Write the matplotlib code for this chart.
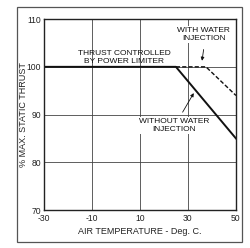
import matplotlib
matplotlib.use('Agg')
import matplotlib.pyplot as plt
from matplotlib.patches import Rectangle

plt.rcParams['font.family'] = ['Liberation Sans', 'DejaVu Sans']
plt.rcParams['axes.unicode_minus'] = False

# data
without_x = [-30, 25, 50]
without_y = [100, 100, 85]
with_x = [25, 37.5, 50]
with_y = [100, 100, 94]
xticks = [-30, -10, 10, 30, 50]
yticks = [70, 80, 90, 100, 110]

fig = plt.figure(figsize=(2.51, 2.48), dpi=100)
ax = fig.add_axes([0.175, 0.153, 0.765, 0.770])

# outer frame around the whole figure
fig.patches.append(Rectangle((0.068, 0.024), 0.896, 0.948, transform=fig.transFigure,
                             fill=False, lw=0.9, ec='#555555'))

ax.set_xlim(-30, 50)
ax.set_ylim(70, 110)
ax.set_xticks(xticks)
ax.set_yticks(yticks)
ax.tick_params(length=0, labelsize=6.2, colors='#222222')
ax.tick_params(axis='x', pad=3)
ax.tick_params(axis='y', pad=2)
ax.grid(True, color='#444444', lw=0.6)
for s in ax.spines.values():
    s.set_linewidth(1.0)
    s.set_color('#222222')

ax.plot(with_x, with_y, color='#111111', lw=1.0, ls=(0, (3, 1.5)))
ax.plot(without_x, without_y, color='#111111', lw=1.4)

ax.text(3.5, 102.0, 'THRUST CONTROLLED\nBY POWER LIMITER', fontsize=6, ha='center', va='center',
        linespacing=1.3, color='#111111')
ax.text(36.5, 106.8, 'WITH WATER\nINJECTION', fontsize=6, ha='center', va='center',
        linespacing=1.3, color='#111111', bbox=dict(fc='white', ec='none', pad=0.5))
ax.text(24.2, 87.7, 'WITHOUT WATER\nINJECTION', fontsize=6, ha='center', va='center',
        linespacing=1.3, color='#111111', bbox=dict(fc='white', ec='none', pad=0.5))

ax.annotate('', xy=(35.7, 100.7), xytext=(36.7, 104.2),
            arrowprops=dict(arrowstyle='-|>', lw=0.6, color='#111111', mutation_scale=5))
ax.annotate('', xy=(33, 95.0), xytext=(27.2, 90.0),
            arrowprops=dict(arrowstyle='-|>', lw=0.6, color='#111111', mutation_scale=5))

ax.set_xlabel('AIR TEMPERATURE - Deg. C.', fontsize=6.5, labelpad=3, color='#222222')
ax.set_ylabel('% MAX. STATIC THRUST', fontsize=6.5, color='#222222')
ax.yaxis.set_label_coords(-0.085, 0.5)

fig.savefig('out.png', dpi=100)
